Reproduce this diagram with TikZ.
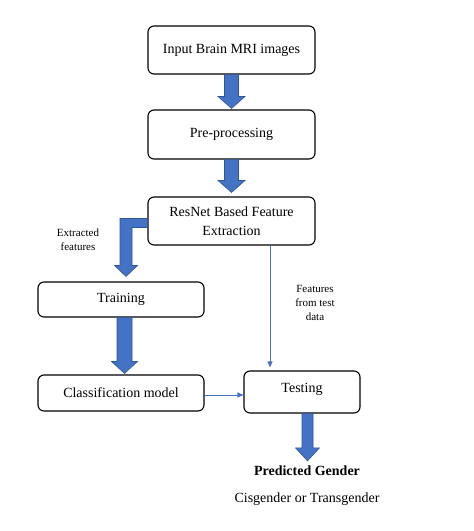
\documentclass[tikz,border=0pt]{standalone}
\usepackage{fontspec}
\setmainfont{Liberation Serif}
\usetikzlibrary{calc,arrows.meta}
\definecolor{arrblue}{HTML}{4472C4}
\definecolor{arredge}{HTML}{2F5597}
\tikzset{
  box/.style={draw=black, line width=1.1pt, rounded corners=6pt, inner sep=2pt,
    font=\fontsize{14}{19}\selectfont, align=center},
  blockarrow/.style={fill=arrblue, draw=arredge, line width=0.6pt, line join=miter},
  thinarrow/.style={draw=arrblue, line width=0.8pt, -{Triangle[length=6pt,width=5pt]}},
  lbl/.style={font=\fontsize{11}{14}\selectfont, align=center, inner sep=0pt},
}
% vertical block arrow: #1 start, #2 tip, #3 shaft half width, #4 head half width, #5 head length
\newcommand{\vblock}[5]{%
  \path[blockarrow] let \p1=#1, \p2=#2 in
    (\x1-#3,\y1) -- (\x1-#3,\y2+#5) -- (\x1-#4,\y2+#5) -- (\x1,\y2) --
    (\x1+#4,\y2+#5) -- (\x1+#3,\y2+#5) -- (\x1+#3,\y1) -- cycle;}
\begin{document}
\begin{tikzpicture}[x=1pt,y=-1pt]
\useasboundingbox (0,0) rectangle (474,531);
\node[box, minimum width=167pt, minimum height=48pt] (b1) at (231.5,50) {Input Brain MRI images};
\node[box, minimum width=167pt, minimum height=49pt] (b2) at (231.5,134.5) {Pre-processing};
\node[box, minimum width=167pt, minimum height=48pt] (b3) at (231.5,221) {ResNet Based Feature\\Extraction};
\node[box, minimum width=166pt, minimum height=35pt] (train) at (121,299.5) {Training};
\node[box, minimum width=166pt, minimum height=36pt] (cls) at (121,393) {Classification model};
\node[box, minimum width=116pt, minimum height=42pt, text depth=8pt] (test) at (302,392) {Testing};
\node[lbl] (ext) at (78,240) {Extracted\\features};
\node[lbl] (fft) at (315,303) {Features\\from test\\data};
\node[font=\fontsize{14}{16}\selectfont\bfseries, inner sep=1pt] (pred) at (307,471) {Predicted Gender};
\node[font=\fontsize{14}{16}\selectfont, inner sep=1pt] (res) at (307,499) {Cisgender or Transgender};
\coordinate (tx) at (270,0);
\coordinate (bx) at (307.5,0);
% block arrows
\vblock{(b1.south)}{($(b2.north)+(0,1pt)$)}{7pt}{13.5pt}{12pt}
\vblock{(b2.south)}{($(b3.north)+(0,4pt)$)}{7pt}{13.5pt}{12pt}
\vblock{($(train.south)+(3.5pt,0)$)}{($(cls.north)+(3.5pt,1pt)$)}{7.5pt}{13pt}{12pt}
\vblock{(test.south -| bx)}{($(pred.north -| bx)+(0,4pt)$)}{5.5pt}{12pt}{13pt}
% bent block arrow
\path[blockarrow] let \p1=($(b3.west)+(0,-2pt)$), \p2=($(train.north)+(5pt,5pt)$) in
  (\x1,\y1+4.5pt) -- (\x2-6pt,\y1+4.5pt) -- (\x2-6pt,\y2+11pt) -- (\x2-11.5pt,\y2+11pt) --
  (\x2,\y2) -- (\x2+11.5pt,\y2+11pt) -- (\x2+6pt,\y2+11pt) -- (\x2+6pt,\y1-4.5pt) --
  (\x1,\y1-4.5pt) -- cycle;
% thin arrows
\draw[thinarrow, shorten >=3pt] (b3.south -| tx) -- (test.north -| tx);
\draw[thinarrow] ($(cls.east)+(0,-2pt)$) -- ($(cls.east -| test.west)+(0,-2pt)$);
\end{tikzpicture}
\end{document}
